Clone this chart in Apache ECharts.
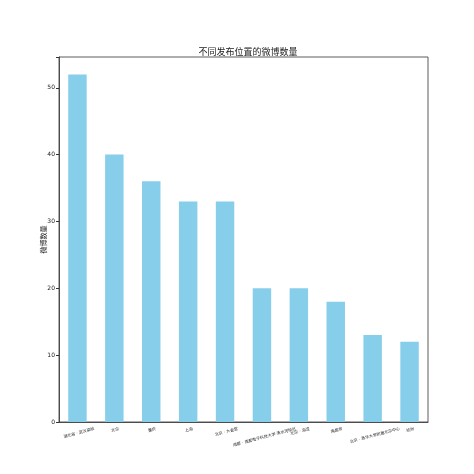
<!DOCTYPE html>
<html>
<head>
<meta charset="utf-8">
<script src="https://cdn.jsdelivr.net/npm/echarts@6/dist/echarts.min.js"></script>
<style>
html, body { margin: 0; padding: 0; background: #fff; }
#chart { width: 474px; height: 474px; }
</style>
</head>
<body>
<div id="chart"></div>
<script>
// 发布位置
var locations = [
	'湖北省 · 武汉高校', '北京', '重庆', '上海', '北京 · 大会堂',
	'成都 · 成都电子科技大学·清水河校区', '北京 · 海淀', '南昌市',
	'北京 · 清华大学附属北京中心', '杭州'
];
// 微博数量
var counts = [52, 40, 36, 33, 33, 20, 20, 18, 13, 12];
var yTicks = [0, 10, 20, 30, 40, 50];

var font = '"DejaVu Sans", "Noto Sans CJK SC", sans-serif';
var labelSize = 4;
var labelRotate = 15;

// 旋转后标签以中心对齐，按文字宽度下移，让每个标签的最高点都在刻度下方
var measure = document.createElement('canvas').getContext('2d');
measure.font = labelSize + 'px ' + font;
var rich = {};
locations.forEach(function(name, i) {
	var w = measure.measureText(name).width;
	var shift = w / 2 * Math.sin(labelRotate * Math.PI / 180);
	rich['l' + i] = {
		fontSize: labelSize, fontFamily: font, color: '#222',
		padding: [shift, 0, 0, 0]
	};
});

var chart = echarts.init(document.getElementById('chart'));
chart.setOption({
	animation: false,
	title: {
		text: '不同发布位置的微博数量',
		left: 243,
		top: 43,
		textAlign: 'center',
		textStyle: { fontSize: 9, fontWeight: 'normal', color: '#222', fontFamily: font }
	},
	grid: {
		left: 59, right: 46, top: 57, bottom: 52,
		show: true, borderColor: '#333', borderWidth: 0.8, backgroundColor: '#fff'
	},
	xAxis: {
		type: 'category',
		data: locations,
		axisLine: { lineStyle: { color: '#333', width: 0.8 } },
		axisTick: { alignWithLabel: true, length: 3, lineStyle: { color: '#333' } },
		axisLabel: {
			rotate: labelRotate, align: 'center', verticalAlign: 'top',
			fontSize: labelSize, color: '#222', margin: 5, interval: 0, fontFamily: font,
			formatter: function(value, index) {
				return '{l' + index + '|' + value + '}';
			},
			rich: rich
		}
	},
	yAxis: {
		type: 'value',
		min: 0,
		max: 54.6,
		interval: 10,
		name: '微博数量',
		nameLocation: 'middle',
		nameGap: 11,
		nameMoveOverlap: false,
		nameTextStyle: { fontSize: 7, color: '#222', fontFamily: font },
		splitLine: { show: false },
		axisLine: { show: true, lineStyle: { color: '#333', width: 0.8 } },
		axisTick: { show: true, length: 3, lineStyle: { color: '#333' } },
		axisLabel: {
			fontSize: 6, color: '#222', margin: 4, fontFamily: font,
			formatter: function(v) {
				return yTicks.indexOf(v) > -1 ? String(v) : '';
			}
		}
	},
	series: [{
		type: 'bar',
		data: counts,
		barWidth: '50%',
		itemStyle: { color: '#87CEEB' }
	}]
});
</script>
</body>
</html>
